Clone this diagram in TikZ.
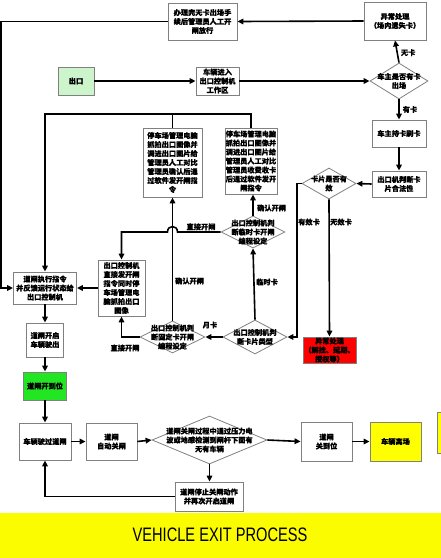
\documentclass[tikz,border=0pt]{standalone}
\usepackage{fontspec}
\setmainfont[FakeBold=0.8]{Noto Sans CJK SC}
\newfontfamily\bannerfont[FakeStretch=0.75]{Liberation Sans}
\usetikzlibrary{shapes.geometric,arrows.meta}
\definecolor{bordergray}{HTML}{808080}
\definecolor{palegreen}{HTML}{CCF5CC}
\definecolor{brightgreen}{HTML}{22E622}
\definecolor{yel}{HTML}{FFFF00}
\definecolor{bannery}{HTML}{FCFC00}
\begin{document}
\begin{tikzpicture}[x=1pt,y=-1pt,
  every node/.style={font=\fontsize{7.2}{9}\selectfont\bfseries, align=center, inner sep=0pt},
  box/.style={draw=bordergray, line width=0.8pt, fill=white, rectangle},
  dia/.style={draw=bordergray, line width=0.8pt, fill=white, diamond, inner sep=0pt},
  conn/.style={line width=1.6pt, -{Triangle[length=6pt,width=5.5pt]}},
  plain/.style={line width=1.6pt},
  lab/.style={font=\fontsize{7.2}{9}\selectfont\bfseries}]
\useasboundingbox (0,0) rectangle (441,558);

% banner
\fill[bannery] (0,513) rectangle (441,558);
\node (title) at (220,535) {\bannerfont\mdseries\fontsize{19.5}{20}\selectfont VEHICLE EXIT PROCESS};

% partially visible box at right edge
\draw[draw=bordergray, line width=0.8pt, fill=yel] (437.5,412) rectangle (447,453);

% nodes
\node[box, minimum width=69pt, minimum height=37pt] (n1) at (202.5,21.5) {办理完无卡出场手\\续后管理员人工开\\闸放行};
\node[box, minimum width=62pt, minimum height=38pt] (n2) at (395,21) {异常处理\\（场内遗失卡）};
\node[box, fill=palegreen, minimum width=36pt, minimum height=28pt] (n3) at (76,81) {出口};
\node[box, minimum width=43pt, minimum height=28pt] (n4) at (217.5,81) {车辆进入\\出口控制机\\工作区};
\node[dia, minimum width=58pt, minimum height=36pt, label={center:车主是否有卡\\出场}] (d1) at (399,81) {};
\node[box, minimum width=54pt, minimum height=27pt] (n5) at (399,133.5) {车主持卡刷卡};
\node[box, minimum width=54pt, minimum height=26pt] (n6) at (399,184) {出口机判断卡\\片合法性};
\node[dia, minimum width=54pt, minimum height=31pt, label={center:卡片是否有\\效}] (d2) at (329,183.5) {};
\node[box, minimum width=52pt, minimum height=66pt] (n7) at (251,161) {停车场管理电脑\\抓拍出口图像并\\调进出口图片给\\管理员人工对比\\管理员收费收卡\\后通过软件发开\\闸指令};
\node[box, minimum width=59pt, minimum height=69pt] (n8) at (172.5,162.5) {停车场管理电脑\\抓拍出口图像并\\调进出口图片给\\管理员人工对比\\管理员确认后通\\过软件发开闸指\\令};
\node[dia, minimum width=64pt, minimum height=32pt, label={center:出口控制机判\\断临时卡开闸\\编程设定}] (d3) at (253,232) {};
\node[dia, minimum width=64pt, minimum height=34pt, label={center:出口控制机判\\断卡片类型}] (d4) at (255,337) {};
\node[box, fill=red, minimum width=53pt, minimum height=26pt] (n9) at (329.5,350) {异常处理\\（解挂、延期、\\授权等）};
\node[dia, minimum width=65pt, minimum height=32pt, label={center:出口控制机判\\断固定卡开闸\\编程设定}] (d5) at (172.5,337) {};
\node[box, minimum width=47pt, minimum height=56pt] (n10) at (121.5,288) {出口控制机\\直接发开闸\\指令同时停\\车场管理电\\脑抓拍出口\\图像};
\node[box, minimum width=63pt, minimum height=32pt] (n11) at (45,288) {道闸执行指令\\并反馈运行状态给\\出口控制机};
\node[box, minimum width=37pt, minimum height=34pt] (n12) at (45,340) {道闸开启\\车辆驶出};
\node[box, fill=brightgreen, minimum width=43pt, minimum height=28pt] (n13) at (45,386) {道闸开到位};
\node[box, minimum width=52pt, minimum height=37pt] (n14) at (45,441.5) {车辆驶过道闸};
\node[box, minimum width=51pt, minimum height=37pt] (n15) at (111.5,441.5) {道闸\\自动关闸};
\node[dia, minimum width=115pt, minimum height=48pt, label={center:道闸关闸过程中通过压力电\\波或地感检测到闸杆下面有\\无有车辆}] (d6) at (209.5,440) {};
\node[box, minimum width=51pt, minimum height=39pt] (n16) at (326.5,441.5) {道闸\\关到位};
\node[box, fill=yel, minimum width=51pt, minimum height=39pt] (n17) at (395.5,441.5) {车辆离场};
\node[box, minimum width=68pt, minimum height=29pt] (n18) at (209,496.5) {道闸停止关闸动作\\并再次开启道闸};

% connectors
\draw[conn] (n2.west) -- (n1.east);
\draw[conn] (n1.west) -- (1,21.5) -- (1,288) -- (n11.west);
\draw[conn] (n3.east) -- (n4.west);
\draw[conn] (n4.east) -- (d1.west);
\draw[conn] (d1.north) -- node[lab, anchor=west, xshift=3pt, pos=0.45] (l1) {无卡} (n2.south);
\draw[conn] (d1.south) -- node[lab, anchor=west, xshift=3pt] (l2) {有卡} (n5.north);
\draw[conn] (n5.south) -- (n6.north);
\draw[conn] (n6.west) -- (d2.east);
\draw[conn] (d2.west) -- (297,183.5) -- (297,337) -- (d4.east);
\node[lab, anchor=west] (l3) at (298,222) {有效卡};
\draw[conn] (d2.south) -- (n9.north);
\node[lab, anchor=west] (l4) at (330,222) {无效卡};
\draw[conn] (d4.north) -- (d3.south);
\node[lab, anchor=west] (l5) at (256,282) {临时卡};
\draw[conn] (d3.north) -- (n7.south -| d3.north);
\node[lab, anchor=west] (l6) at (257,208) {确认开闸};
\draw[conn] (d3.west) -- (177.5,232) .. controls (177.5,224.7) and (167.5,224.7) .. (167.5,232) -- (121.5,232) -- (n10.north);
\node[lab, anchor=south] (l7) at (201,230.5) {直接开闸};
\draw[conn] (d4.west) -- (d5.east);
\node[lab] (l8) at (210,325) {月卡};
\draw[conn] (d5.north) -- (n8.south);
\node[lab, anchor=west] (l9) at (175,281) {确认开闸};
\draw[conn] (d5.west) -- (121.5,337) -- (n10.south);
\node[lab] (l10) at (125,348) {直接开闸};
\draw[conn] (n10.west) -- (n11.east);
\draw[plain] (n8.north) -- (172.5,114);
\draw[conn] (n7.north) -- (251,114) -- (45,114) -- (n11.north);
\draw[conn] (n11.south) -- (n12.north);
\draw[conn] (n12.south) -- (n13.north);
\draw[conn] (n13.south) -- (n14.north);
\draw[conn] (n14.east) -- (n15.west);
\draw[conn] (n15.east) -- (d6.west);
\draw[conn] (d6.east) -- (n16.west);
\draw[conn] (n16.east) -- (n17.west);
\draw[conn] (d6.south) -- (n18.north -| d6.south);
\draw[conn] (n18.west) -- (45,496.5) -- (n14.south);
\end{tikzpicture}
\end{document}
